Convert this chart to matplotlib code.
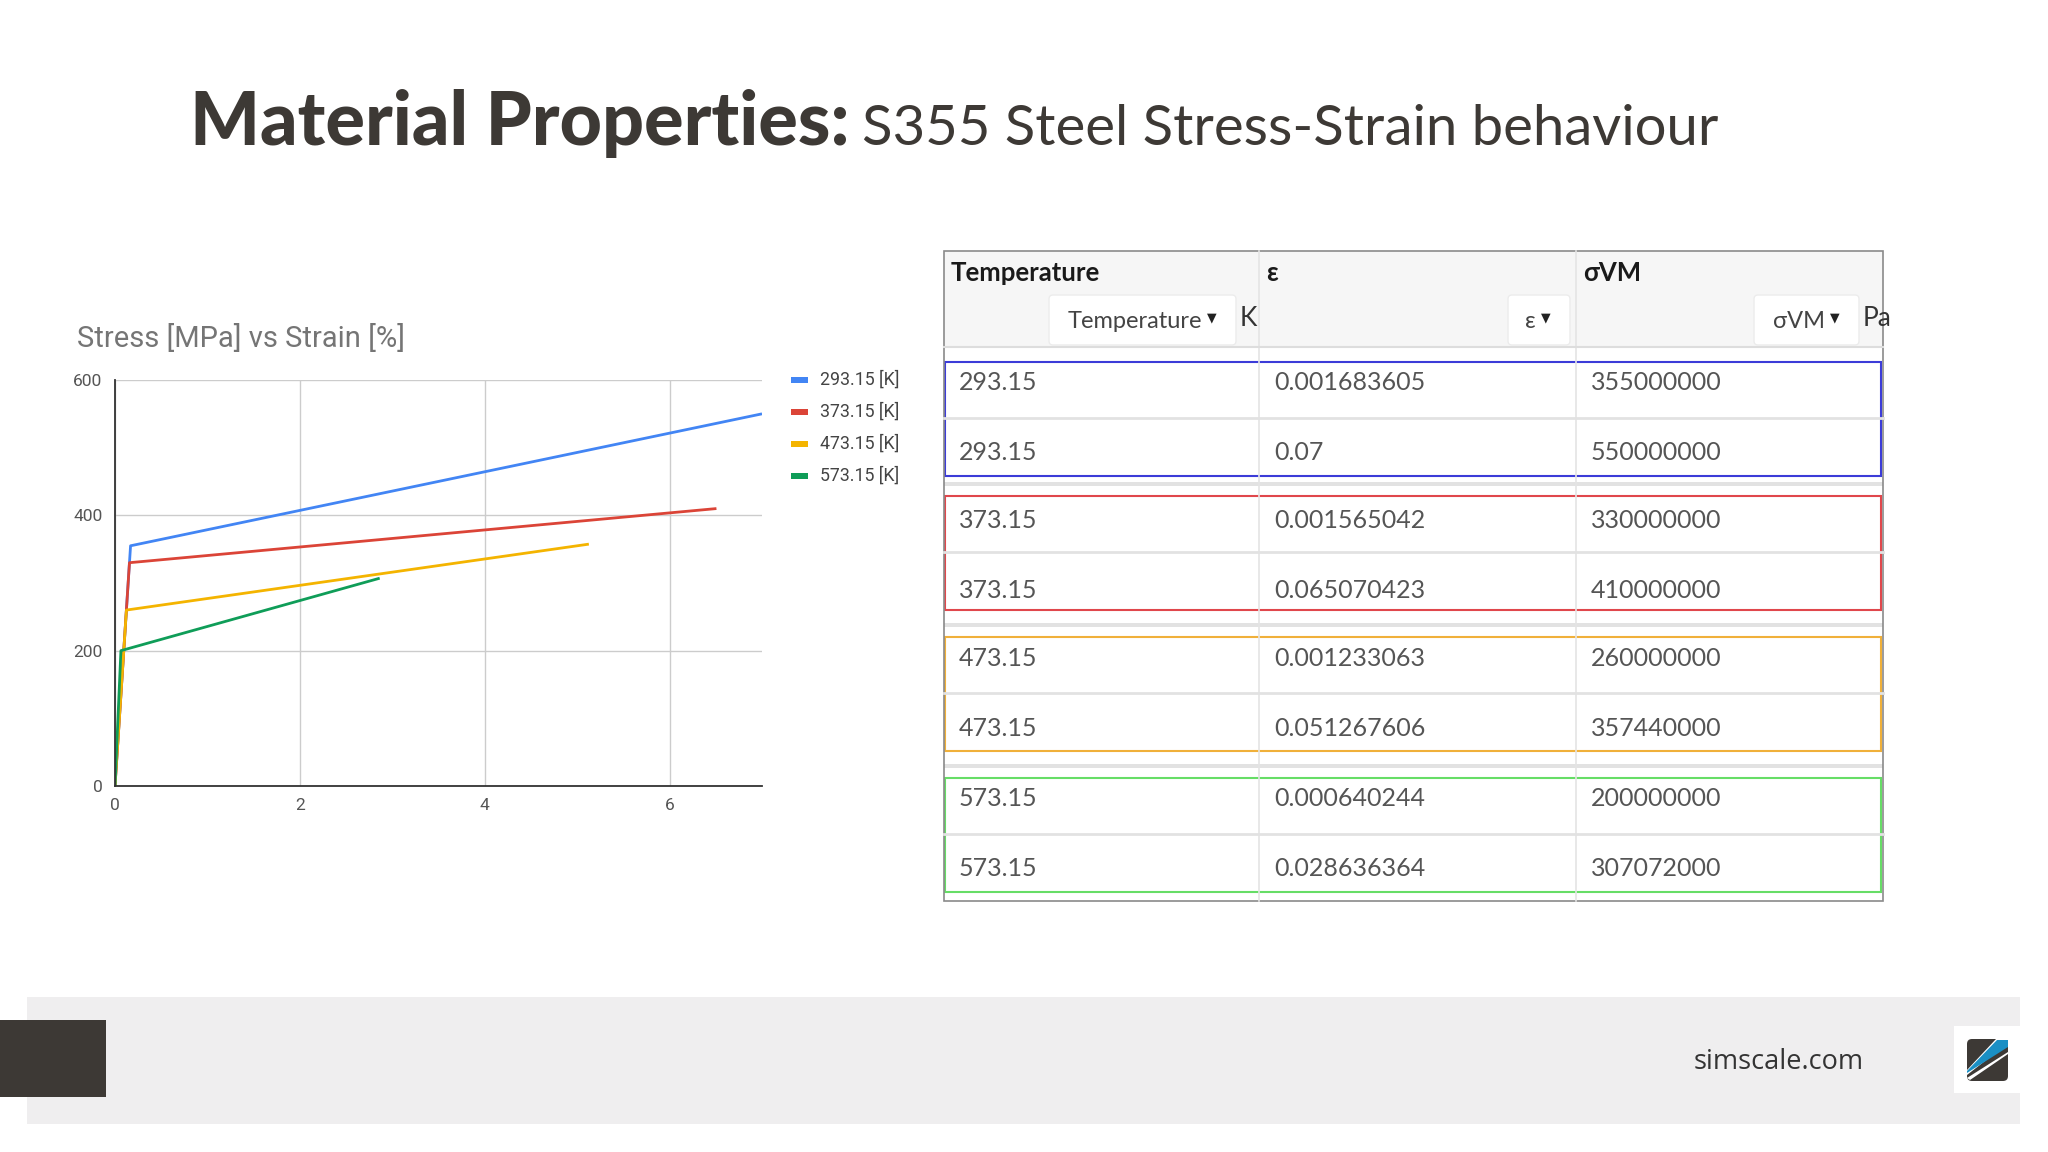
import matplotlib.pyplot as plt
from matplotlib.patches import Rectangle, FancyBboxPatch, Polygon


# table values (SI units, as in the source table)
temperatures = [293.15, 373.15, 473.15, 573.15]
strain_yield = [0.001683605, 0.001565042, 0.001233063, 0.000640244]
strain_end = [0.07, 0.065070423, 0.051267606, 0.028636364]
stress_yield = [355000000, 330000000, 260000000, 200000000]
stress_end = [550000000, 410000000, 357440000, 307072000]

series_colors = ["#4285f4", "#db4437", "#f4b400", "#0f9d58"]
box_colors = ["#3c3cd8", "#e0474c", "#f0b03a", "#66dd66"]

x_ticks = [0, 2, 4, 6]
y_ticks = [0, 200, 400, 600]

W, H = 2048, 1152
DARK = "#3d3935"
group_tops = [362, 496, 637, 778]   # pixel layout of the table groups
text_offsets = [21, 25, 22, 20]


def fmt_strain(v):
    return f"{v:.9f}".rstrip("0")


def px_axes(fig, x0, y0, x1, y1):
    return fig.add_axes([x0 / W, 1 - y1 / H, (x1 - x0) / W, (y1 - y0) / H])


fig = plt.figure(figsize=(20.48, 11.52), dpi=100)
fig.patch.set_facecolor("white")

bg = fig.add_axes([0, 0, 1, 1])
bg.set_xlim(0, W)
bg.set_ylim(H, 0)
bg.axis("off")

# slide title
bg.text(190, 145, "Material Properties:", fontsize=53, fontweight="black",
        family="Lato", color=DARK, va="baseline", ha="left")
bg.text(862, 145, "S355 Steel Stress-Strain behaviour", fontsize=40.5,
        family="Lato", color=DARK, va="baseline", ha="left")

# footer
bg.add_patch(Rectangle((27, 997), 1993, 127, color="#efeeef", lw=0))
bg.add_patch(Rectangle((0, 1020), 106, 77, color=DARK, lw=0))
bg.text(1864, 1062, "simscale.com", fontsize=19.5, family="Open Sans",
        color="#333333", ha="right", va="center")
bg.add_patch(Rectangle((1954, 1026), 66, 67, color="white", lw=0))
bg.add_patch(FancyBboxPatch((1967, 1039), 41, 42,
                            boxstyle="round,pad=0,rounding_size=5",
                            color=DARK, lw=0))
bg.add_patch(Polygon([(1967, 1070), (1996, 1039), (2008, 1039),
                      (2008, 1043), (1967, 1075)], color="white", lw=0))
bg.add_patch(Polygon([(1967, 1071), (1997, 1040), (2008, 1040),
                      (2008, 1047), (1967, 1073)], color="#1a8fc4", lw=0))
bg.add_patch(Polygon([(1967, 1078), (2008, 1052), (2008, 1054),
                      (1970, 1080)], color="white", lw=0))

# chart title
bg.text(77, 338, "Stress [MPa] vs Strain [%]", fontsize=21, family="Roboto",
        color="#757575", ha="left", va="center")

# legend
for i, t in enumerate(temperatures):
    y = 380 + 32 * i
    bg.add_patch(Rectangle((791, y - 3), 17, 6, color=series_colors[i], lw=0))
    bg.text(820, y, f"{t} [K]", fontsize=12.8, family="Roboto",
            color="#444444", ha="left", va="center")

# line chart
ax = px_axes(fig, 115, 380, 762, 786)
ax.set_facecolor("none")
for i in range(len(temperatures)):
    xs = [0, strain_yield[i] * 100, strain_end[i] * 100]
    ys = [0, stress_yield[i] / 1e6, stress_end[i] / 1e6]
    ax.plot(xs, ys, color=series_colors[i], lw=2, solid_capstyle="butt")
ax.set_xlim(0, 7)
ax.set_ylim(0, 600)
ax.set_xticks(x_ticks)
ax.set_yticks(y_ticks)
ax.grid(True, color="#cccccc", lw=1)
ax.set_axisbelow(True)
for s in ["top", "right"]:
    ax.spines[s].set_visible(False)
for s in ["left", "bottom"]:
    ax.spines[s].set_color("#333333")
    ax.spines[s].set_linewidth(1.3)
ax.tick_params(length=0, labelsize=12.5, labelcolor="#555555", pad=9)
for lab in ax.get_xticklabels() + ax.get_yticklabels():
    lab.set_family("Roboto")

# table
tx0, tx1, ty0, ty1 = 944, 1883, 251, 901
col_x = [944, 1259, 1576]
bg.add_patch(Rectangle((tx0, ty0), tx1 - tx0, 96, color="#f6f6f6", lw=0))
for cx in col_x[1:]:
    bg.plot([cx, cx], [ty0, ty1], color="#e4e4e4", lw=1.2)
bg.plot([tx0, tx1], [347, 347], color="#dddddd", lw=1.5)

headers = ["Temperature", "ε", "σVM"]
for cx, h in zip(col_x, headers):
    bg.text(cx + 7, 273, h, fontsize=18.5, fontweight="bold",
            family=["Lato", "DejaVu Sans"], color="#1a1a1a", va="center")

# unit dropdowns in header
drops = [(1049, 1236, "Temperature", "K"), (1508, 1570, "ε", ""),
         (1754, 1859, "σVM", "Pa")]
for x0, x1, lab, unit in drops:
    bg.add_patch(FancyBboxPatch((x0, 295), x1 - x0, 50,
                                boxstyle="round,pad=0,rounding_size=4",
                                facecolor="white", edgecolor="#ececec", lw=1))
    bg.text(x1 - 34, 321, lab, fontsize=17,
            family=["Lato", "DejaVu Sans"], color="#444444",
            ha="right", va="center")
    bg.text(x1 - 29, 318, "▼", fontsize=9, family="DejaVu Sans",
            color="#222222", ha="left", va="center")
    if unit:
        bg.text(x1 + 4, 318, unit, fontsize=19, family="Lato",
                color="#333333", ha="left", va="center")

for i, t in enumerate(temperatures):
    top = group_tops[i]
    if i > 0:
        bg.add_patch(Rectangle((tx0, top - 14), tx1 - tx0, 4,
                               color="#e2e2e2", lw=0))
    bg.plot([tx0, tx1], [top + 56, top + 56], color="#e2e2e2", lw=2)
    rows = [(str(t), fmt_strain(strain_yield[i]), str(stress_yield[i])),
            (str(t), fmt_strain(strain_end[i]), str(stress_end[i]))]
    for r, vals in enumerate(rows):
        y = top + text_offsets[i] + 70 * r
        for cx, v in zip(col_x, vals):
            bg.text(cx + 15, y, v, fontsize=18, family="Lato",
                    color="#555555", va="center", ha="left")
    bg.add_patch(Rectangle((tx0 + 1, top), tx1 - tx0 - 3, 114,
                           fill=False, edgecolor=box_colors[i], lw=1.5))

# cover anything spilling past the table frame, then draw frame
bg.add_patch(Rectangle((tx1, 240), 60, 120, color="white", lw=0))
bg.add_patch(Rectangle((tx0, ty0), tx1 - tx0, ty1 - ty0, fill=False,
                       edgecolor="#8a8a8a", lw=1.2))

fig.savefig("out.png", dpi=100)
